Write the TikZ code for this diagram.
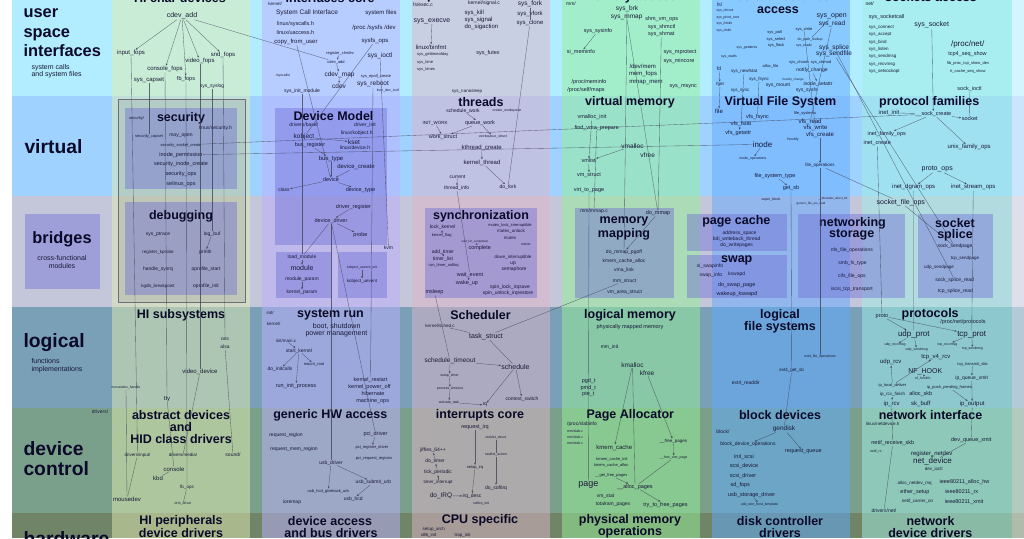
\documentclass[tikz,border=0pt]{standalone}
\usepackage{fontspec}
\setmainfont{Liberation Sans}
\usetikzlibrary{arrows.meta}
\definecolor{cUser}{RGB}{178,236,255}
\definecolor{cVirt}{RGB}{160,210,255}
\definecolor{cBrid}{RGB}{196,198,218}
\definecolor{cLogi}{RGB}{122,160,184}
\definecolor{cDevc}{RGB}{122,160,140}
\definecolor{cHard}{RGB}{112,132,104}
\definecolor{oHI}{RGB}{224,236,176}
\definecolor{oSys}{RGB}{190,176,255}
\definecolor{oProc}{RGB}{222,180,200}
\definecolor{oMem}{RGB}{150,240,150}
\definecolor{oStor}{RGB}{96,170,255}
\definecolor{oNet}{RGB}{160,240,228}
\definecolor{boxc}{RGB}{112,112,214}
\definecolor{headc}{RGB}{10,10,40}
\definecolor{labc}{RGB}{25,25,55}
\definecolor{linec}{RGB}{60,60,80}
\definecolor{framec}{RGB}{110,110,120}
\tikzset{
  every node/.style={inner sep=0.3pt, outer sep=0.2pt, text=labc},
  L/.style={font=\fontsize{#1}{#1}\selectfont},
  B/.style={font=\fontsize{12.5}{13}\selectfont\bfseries, text=headc},
  BIG/.style={font=\fontsize{19.3}{20}\selectfont\bfseries, text=headc, anchor=base west},
  MID/.style={font=\fontsize{16.4}{18}\selectfont\bfseries, text=headc, anchor=base west},
  ln/.style={draw=linec, line width=0.35pt, draw opacity=0.75},
  ar/.style={ln, -{Stealth[length=2.4pt,width=1.9pt]}},
  pbox/.style={fill=boxc, fill opacity=0.45},
  colov/.style={fill opacity=0.5},
}
\begin{document}
\begin{tikzpicture}[x=1pt,y=-1pt]
\useasboundingbox (0,0) rectangle (1024,538);
\clip (0,0) rectangle (1024,538);
\fill[white] (0,0) rectangle (1024,538);
% ---------- rows
\fill[cUser] (12,0) rectangle (1024,96);
\fill[cVirt] (12,96) rectangle (1024,196);
\fill[cBrid] (12,196) rectangle (1024,307);
\fill[cLogi] (12,307) rectangle (1024,408);
\fill[cDevc] (12,408) rectangle (1024,513);
\fill[cHard] (12,513) rectangle (1024,538);
% ---------- columns
\fill[oHI, colov] (112,0) rectangle (250,538);
\fill[oSys, colov] (262,0) rectangle (400,538);
\fill[oProc, colov] (412,0) rectangle (550,538);
\fill[oMem, colov] (562,0) rectangle (700,538);
\fill[oStor, colov] (712,0) rectangle (850,538);
\fill[oNet, colov] (862,0) rectangle (1012,538);
\fill[white, fill opacity=0.45] (1012,0) rectangle (1024,538);
% ---------- frames and boxes
\filldraw[fill=gray, fill opacity=0.2, draw=framec, line width=0.5pt] (118,99) rectangle (245,302);
\fill[pbox] (25,214) rectangle (100,289);
\fill[pbox] (125,108) rectangle (237,189);
\fill[pbox] (125,202) rectangle (237,295);
\fill[pbox] (275,108) rectangle (387,245);
\fill[pbox] (276,252) rectangle (331,298);
\fill[pbox] (338,252) rectangle (387,298);
\fill[pbox] (425,208) rectangle (537,298);
\fill[pbox] (575,208) rectangle (674,298);
\fill[pbox] (687,214) rectangle (787,251);
\fill[pbox] (687,255) rectangle (787,298);
\fill[pbox] (798,214) rectangle (905,298);
\fill[pbox] (918,214) rectangle (993,298);
% ---------- left labels
\node[MID] (lUser) at (23,17) {user};
\node[MID] (lSpace) at (23,37) {space};
\node[MID] (lIntf) at (23,56) {interfaces};
\node[L=7, anchor=base west] (lSc1) at (31,69) {system calls};
\node[L=7, anchor=base west] (lSc2) at (31,76.5) {and system files};
\node[BIG] (lVirt) at (24,153) {virtual};
\node[MID, anchor=base] (lBrid) at (62,243) {bridges};
\node[L=7, anchor=base] (lBr1) at (62,260) {cross-functional};
\node[L=7, anchor=base] (lBr2) at (62,268) {modules};
\node[BIG] (lLogi) at (23,347) {logical};
\node[L=7, anchor=base west] (lLo1) at (31,363) {functions};
\node[L=7, anchor=base west] (lLo2) at (31,371) {implementations};
\node[BIG] (lDev1) at (23,455) {device};
\node[BIG] (lDev2) at (23,475) {control};
\node[BIG] (lHw) at (23,545) {hardware};
% ---------- column titles (cut at top)
\node[B, anchor=base] (tHI) at (180,2.5) {HI char devices};
\node[B, anchor=base] (tSys) at (330,2) {interfaces core};
\node[B, anchor=base] (tProc) at (458,-1) {processes};
\node[B, anchor=base] (tMem) at (630,0) {memory access};
\node[B, anchor=base] (tSt1) at (778,0.5) {files \& directories};
\node[B, anchor=base] (tSt2) at (778,13.5) {access};
\node[B, anchor=base] (tNet) at (931,1.5) {sockets access};
% ---------- HI column
\node[L=7] (hiCdev) at (182,16) {cdev\_add};
\node[L=6] (hiInput) at (131,53) {input\_fops};
\node[L=6] (hiSnd) at (223,55) {snd\_fops};
\node[L=6] (hiVideo) at (200,61) {video\_fops};
\node[L=6] (hiConsole) at (165,69) {console\_fops};
\node[L=5.5] (hiFb) at (186,79) {fb\_fops};
\node[L=6] (hiCapset) at (149,80) {sys\_capset};
\node[L=5] (hiSyslog) at (212,86) {sys\_syslog};
\node[B] (hiSecT) at (181,118) {security};
\node[L=4] (hiSecDir) at (136.5,118) {security/};
\node[L=5] (hiSecH) at (215.5,128) {linux/security.h};
\node[L=4] (hiSecCap) at (149,136) {security\_capset};
\node[L=5] (hiMayOpen) at (181,136) {may\_open};
\node[L=4] (hiSecSock) at (181,145) {security\_socket\_create};
\node[L=5.5] (hiInodePerm) at (181,155) {inode\_permission};
\node[L=5.5] (hiSecInode) at (181,164) {security\_inode\_create};
\node[L=5.5] (hiSecOps) at (181,174) {security\_ops};
\node[L=5.5] (hiSelinux) at (181,184) {selinux\_ops};
\node[B] (hiDbgT) at (181,216) {debugging};
\node[L=5] (hiPtrace) at (158,234) {sys\_ptrace};
\node[L=5] (hiLogbuf) at (212,234) {log\_buf};
\node[L=4.5] (hiKprobe) at (158,252) {register\_kprobe};
\node[L=5] (hiPrintk) at (205.5,252) {printk};
\node[L=5] (hiSysrq) at (158,269) {handle\_sysrq};
\node[L=5] (hiOpStart) at (206,269) {oprofile\_start};
\node[L=4.5] (hiKgdb) at (158,286) {kgdb\_breakpoint};
\node[L=5] (hiOpInit) at (206,286) {oprofile\_init};
\node[B] (hiSubT) at (181,315) {HI subsystems};
\node[L=5] (hiOss) at (225,339) {oss};
\node[L=5] (hiAlsa) at (225,347) {alsa};
\node[L=6] (hiVideoDev) at (200,372) {video\_device};
\node[L=3.5] (hiMdHandle) at (126,388) {mousedev\_handle};
\node[L=6] (hiTty) at (167,399) {tty};
\node[L=5] (hiDrivers) at (100,412) {drivers/};
\node[B] (hiAbs1) at (181,415) {abstract devices};
\node[B] (hiAbs2) at (181,427) {and};
\node[B] (hiAbs3) at (181,439) {HID class drivers};
\node[L=4.5] (hiDrvIn) at (137.5,455) {drivers/input/};
\node[L=4.5] (hiDrvMed) at (183,455) {drivers/media/};
\node[L=5] (hiSound) at (233,455) {sound/};
\node[L=6] (hiConsoleD) at (174,469) {console};
\node[L=6] (hiKbd) at (158,478) {kbd};
\node[L=4.5] (hiFbops) at (187,487) {fb\_ops};
\node[L=6] (hiMousedev) at (127,499) {mousedev};
\node[L=3.5] (hiDrm) at (183,504) {drm\_driver};
\node[B] (hiPer1) at (181,521) {HI peripherals};
\node[B] (hiPer2) at (181,533) {device drivers};
% ---------- System column
\node[L=4.5] (sysKernel) at (275,4) {kernel/};
\node[L=6.5] (sysSCI) at (307,13) {System Call Interface};
\node[L=6] (sysFiles) at (381,13) {system files};
\node[L=5.5] (sysSyscallsH) at (295.5,24) {linux/syscalls.h};
\node[L=5.5] (sysUaccess) at (295.5,33) {linux/uaccess.h};
\node[L=6] (sysCopy) at (296,42) {copy\_from\_user};
\node[L=6] (sysProc) at (374,28) {/proc /sysfs /dev};
\node[L=6] (sysSysfsOps) at (375,41) {sysfs\_ops};
\node[L=4] (sysRegChr) at (340,53) {register\_chrdev};
\node[L=4] (sysCdevAdd) at (336,62) {cdev\_add};
\node[L=6.5] (sysCdevMap) at (339.5,75) {cdev\_map};
\node[L=6.5] (sysCdev) at (339,86) {cdev};
\node[L=6.5] (sysIoctl) at (380,56) {sys\_ioctl};
\node[L=4] (sysEpoll) at (376,76) {sys\_epoll\_create};
\node[L=6.5] (sysReboot) at (373,84) {sys\_reboot};
\node[L=3.5] (sysSyscalls) at (283,76) {/syscalls/};
\node[L=5] (sysInitMod) at (302,91) {sys\_init\_module};
\node[L=3.5] (sysKvmIoctl) at (388,91) {kvm\_dev\_ioctl};
\node[B] (sysDmT) at (333.5,116) {Device Model};
\node[L=5] (sysDrvBase) at (303.7,125) {drivers/base/};
\node[L=5] (sysDrvInit) at (365,125) {driver\_init};
\node[L=6.5] (sysKobject) at (304,137) {kobject};
\node[L=5] (sysKobjH) at (356.7,133) {linux/kobject.h};
\node[L=6.5] (sysKset) at (354,142) {kset};
\node[L=5.5] (sysBusReg) at (310,145) {bus\_register};
\node[L=5] (sysDevH) at (355,148) {linux/device.h};
\node[L=6] (sysBusType) at (331,159) {bus\_type};
\node[L=6] (sysDevCreate) at (356,167) {device\_create};
\node[L=5.5] (sysDevice) at (331,180) {device};
\node[L=5] (sysClass) at (284,190) {class};
\node[L=5.5] (sysDevType) at (360.5,190) {device\_type};
\node[L=5.5] (sysDrvReg) at (353.5,206.7) {driver\_register};
\node[L=5.5] (sysDevDrv) at (331,220.7) {device\_driver};
\node[L=5.5] (sysProbe) at (360.5,235) {probe};
\node[L=5] (sysKvm) at (388.5,248) {kvm};
\node[L=5] (sysLoadMod) at (302,257) {load\_module};
\node[L=7] (sysModule) at (302,267.7) {module};
\node[L=5] (sysModParam) at (302,279) {module\_param};
\node[L=5] (sysKParam) at (302,292.3) {kernel\_param};
\node[L=3.5] (sysKuInit) at (362,267.7) {kobject\_uevent\_init};
\node[L=4.5] (sysKu) at (362,281) {kobject\_uevent};
\node[L=4.5] (sysInit) at (270,313) {init/};
\node[L=4.5] (sysKernel2) at (273.5,324) {kernel/};
\node[B] (sysRunT) at (330.5,315) {system run};
\node[L=7] (sysBoot) at (336.7,326) {boot, shutdown};
\node[L=7] (sysPower) at (336.5,333.5) {power management};
\node[L=4.5] (sysMainC) at (286,340.7) {init/main.c};
\node[L=5] (sysStartK) at (299,350.7) {start\_kernel};
\node[L=5] (sysInitcalls) at (280,369.3) {do\_initcalls};
\node[L=4] (sysMountRoot) at (314,364.3) {mount\_root};
\node[L=5.5] (sysRunInit) at (296,386) {run\_init\_process};
\node[L=5.5] (sysKRestart) at (370.5,380) {kernel\_restart};
\node[L=5.5] (sysKPower) at (369.5,387.3) {kernel\_power\_off};
\node[L=5.5] (sysHibernate) at (373,394) {hibernate};
\node[L=5.5] (sysMachOps) at (372.7,401) {machine\_ops};
\node[B] (sysHwT) at (330.3,415) {generic HW access};
\node[L=5] (sysReqReg) at (286,435) {request\_region};
\node[L=5.5] (sysPciDrv) at (375.5,434) {pci\_driver};
\node[L=5] (sysReqMem) at (294,449) {request\_mem\_region};
\node[L=4] (sysPciReg) at (372,447.3) {pci\_register\_driver};
\node[L=4] (sysPciReq) at (374,458.3) {pci\_request\_regions};
\node[L=5] (sysUsbDrv) at (331,462.7) {usb\_driver};
\node[L=5] (sysUsbSubmit) at (373.3,482.3) {usb\_submit\_urb};
\node[L=4] (sysUsbGive) at (328.3,491) {usb\_hcd\_giveback\_urb};
\node[L=5] (sysIoremap) at (292,501.7) {ioremap};
\node[L=5] (sysUsbHcd) at (353.3,499) {usb\_hcd};
\node[B] (sysDa1) at (330,520.7) {device access};
\node[B] (sysDa2) at (331,532.7) {and bus drivers};
% ---------- Processing column
\node[L=5] (prExecC) at (423,5) {fs/exec.c};
\node[L=5] (prSignalC) at (484,3.5) {kernel/signal.c};
\node[L=6, anchor=west] (prKill) at (464,13) {sys\_kill};
\node[L=6, anchor=west] (prSignal) at (464,19.5) {sys\_signal};
\node[L=6, anchor=west] (prSigact) at (464,27) {do\_sigaction};
\node[L=7] (prExecve) at (432,21) {sys\_execve};
\node[L=6.5] (prFork) at (530,4) {sys\_fork};
\node[L=6] (prVfork) at (530,14) {sys\_vfork};
\node[L=6] (prClone) at (530,23) {sys\_clone};
\node[L=6] (prBinfmt) at (431,47) {linux/binfmt};
\node[L=4, anchor=west] (prGtod) at (416.7,54) {sys\_gettimeofday};
\node[L=4, anchor=west] (prTime) at (416.7,62) {sys\_time};
\node[L=4, anchor=west] (prTimes) at (416.7,69) {sys\_times};
\node[L=5.5] (prFutex) at (488,53) {sys\_futex};
\node[L=4.5] (prNanosleep) at (467,91) {sys\_nanosleep};
\node[B] (prThreadsT) at (481,102) {threads};
\node[L=5] (prSchedWork) at (463,110.7) {schedule\_work};
\node[L=3.5] (prCreateWq) at (507,110.7) {create\_workqueue};
\node[L=4.5] (prInitWork) at (435,123) {INIT\_WORK};
\node[L=5.5] (prQueueWork) at (480,123) {queue\_work};
\node[L=5.5] (prWorkStruct) at (443,137) {work\_struct};
\node[L=3.5] (prWqStruct) at (493,136.7) {workqueue\_struct};
\node[L=6] (prKthread) at (481.7,148) {kthread\_create};
\node[L=6] (prKernThread) at (482,162.7) {kernel\_thread};
\node[L=5] (prCurrent) at (457.5,176.7) {current};
\node[L=5] (prThreadInfo) at (456.7,188.3) {thread\_info};
\node[L=5] (prDoFork) at (508,187) {do\_fork};
\node[B] (prSyncT) at (481,216.7) {synchronization};
\node[L=5] (prLockKernel) at (442.5,227.3) {lock\_kernel};
\node[L=4] (prKernelFlag) at (441.7,235.7) {kernel\_flag};
\node[L=3] (prWaitCompl) at (475,241.7) {wait\_for\_completion};
\node[L=5.5] (prComplete) at (479.7,248.3) {complete};
\node[L=4] (prMutexLock) at (510,225.7) {mutex\_lock\_interruptible};
\node[L=4.5] (prMutexUnlock) at (511,231) {mutex\_unlock};
\node[L=4.5] (prMutex) at (510,237.7) {mutex};
\node[L=3.5] (prOwner) at (526,244.3) {owner};
\node[L=5] (prAddTimer) at (443,252.3) {add\_timer};
\node[L=5] (prTimerList) at (443,259) {timer\_list};
\node[L=4] (prRunTimer) at (443.7,265.5) {run\_timer\_softirq};
\node[L=4.5] (prDownInt) at (513,257.3) {down\_interruptible};
\node[L=5] (prUp) at (513,264) {up};
\node[L=5] (prSema) at (514,269.7) {semaphore};
\node[L=5.5] (prWaitEvent) at (470,275) {wait\_event};
\node[L=5.5] (prWakeUp) at (467,283.3) {wake\_up};
\node[L=5] (prSpinLock) at (510,287.3) {spin\_lock\_irqsave};
\node[L=5] (prSpinUnlock) at (508,293.3) {spin\_unlock\_irqrestore};
\node[L=5.5] (prMsleep) at (434.5,292.3) {msleep};
\node[B] (prSchedT) at (480.5,315) {Scheduler};
\node[L=4.5] (prKSched) at (440,325.7) {kernel/sched.c};
\node[L=7] (prTask) at (486,336.3) {task\_struct};
\node[L=6.5] (prSchedTimeout) at (450,361) {schedule\_timeout};
\node[L=7] (prSchedule) at (515.5,366.7) {schedule};
\node[L=3.5] (prSetupTimer) at (449.5,375.7) {setup\_timer};
\node[L=3.5] (prProcTimeout) at (450,389) {process\_timeout};
\node[L=3.5] (prActTask) at (449,402.3) {activate\_task};
\node[L=5] (prRq) at (485,405) {rq};
\node[L=5] (prCtxSwitch) at (522,399) {context\_switch};
\node[B] (prIntT) at (480,415) {interrupts core};
\node[L=5.5] (prReqIrq) at (475,426.7) {request\_irq};
\node[L=3.5] (prTaskletS) at (496,437.7) {tasklet\_struct};
\node[L=5] (prJiffies) at (433,450) {jiffies\_64++};
\node[L=3.5] (prTaskletA) at (496,455) {tasklet\_action};
\node[L=5] (prDoTimer) at (435,461) {do\_timer};
\node[L=4] (prSetupIrq) at (475,467.3) {setup\_irq};
\node[L=5] (prTickPer) at (438,472.3) {tick\_periodic};
\node[L=4.5] (prTimerInt) at (438,482.7) {timer\_interrupt};
\node[L=5] (prDoSoftirq) at (496,487.7) {do\_softirq};
\node[L=6.5] (prDoIRQ) at (441,495.7) {do\_IRQ};
\node[L=5] (prIrqDesc) at (472,496) {irq\_desc};
\node[L=3.5] (prSoftirqInit) at (481,503.3) {softirq\_init};
\node[B] (prCpuT) at (480,520.7) {CPU specific};
\node[L=4.5] (prSetupArch) at (433.7,529) {setup\_arch};
\node[L=4.5] (prX86) at (428.5,535.5) {x86\_init};
\node[L=4.5] (prTrapInit) at (462.5,535.7) {trap\_init};
% ---------- Memory column
\node[L=5] (mmDir) at (571,3.5) {mm/};
\node[L=6.5] (mmBrk) at (627,9) {sys\_brk};
\node[L=6.5] (mmSysMmap) at (626.7,17.7) {sys\_mmap};
\node[L=5.5] (mmShmOps) at (661.7,18.7) {shm\_vm\_ops};
\node[L=5.5] (mmShmctl) at (661.7,26.7) {sys\_shmctl};
\node[L=5.5] (mmShmat) at (661.3,34.3) {sys\_shmat};
\node[L=5.5] (mmSysinfo) at (598,31) {sys\_sysinfo};
\node[L=5.5] (mmSiMeminfo) at (581,52.3) {si\_meminfo};
\node[L=5.5] (mmMprotect) at (680,52.3) {sys\_mprotect};
\node[L=5.5] (mmMincore) at (679,61) {sys\_mincore};
\node[L=6] (mmDevMem) at (642.7,66.3) {/dev/mem};
\node[L=6] (mmMemFops) at (643,74.3) {mem\_fops};
\node[L=6] (mmMmapMem) at (646,82.3) {mmap\_mem};
\node[L=5.5] (mmProcMeminfo) at (589,82) {/proc/meminfo};
\node[L=5.5] (mmProcMaps) at (586,90) {/proc/self/maps};
\node[L=5.5] (mmMsync) at (683.3,87) {sys\_msync};
\node[B] (mmVirtT) at (630,102.7) {virtual memory};
\node[L=5.5] (mmVmallocInit) at (592,117.3) {vmalloc\_init};
\node[L=5.5] (mmFindVma) at (596.7,127.7) {find\_vma\_prepare};
\node[L=6.5] (mmVmalloc) at (632.5,146) {vmalloc};
\node[L=6.5] (mmVfree) at (647.7,154.7) {vfree};
\node[L=5.5] (mmVmlist) at (588.7,161) {vmlist};
\node[L=5.5] (mmVmStruct) at (589,175) {vm\_struct};
\node[L=5.5] (mmVirtToPage) at (589,190) {virt\_to\_page};
\node[L=5] (mmMmapC) at (594,210.8) {mm/mmap.c};
\node[L=5.5] (mmDoMmap) at (658,213.3) {do\_mmap};
\node[B] (mmMapT1) at (624,221) {memory};
\node[B] (mmMapT2) at (624,234) {mapping};
\node[L=5] (mmDoMmapPgoff) at (624,252.3) {do\_mmap\_pgoff};
\node[L=5] (mmKmemAlloc) at (624,261) {kmem\_cache\_alloc};
\node[L=5] (mmVmaLink) at (624,270) {vma\_link};
\node[L=5] (mmMmStruct) at (624.5,281) {mm\_struct};
\node[L=5] (mmVmArea) at (624.7,292.3) {vm\_area\_struct};
\node[B] (mmLogT) at (630,315) {logical memory};
\node[L=5.5] (mmPhysMapped) at (630,326.7) {physically mapped memory};
\node[L=5] (mmInit) at (609.5,346.7) {mm\_init};
\node[L=6.5] (mmKmalloc) at (632.5,365) {kmalloc};
\node[L=6.5] (mmKfree) at (647,373.3) {kfree};
\node[L=5.5] (mmPgd) at (588.7,381) {pgd\_t};
\node[L=5.5] (mmPmd) at (588.3,387.7) {pmd\_t};
\node[L=5.5] (mmPte) at (588.3,394.3) {pte\_t};
\node[B] (mmPaT) at (630.3,415) {Page Allocator};
\node[L=5] (mmSlabinfo) at (582,424) {/proc/slabinfo};
\node[L=3.5] (mmSlab) at (575,431) {mm/slab.c};
\node[L=3.5] (mmSlub) at (575,437) {mm/slub.c};
\node[L=3.5] (mmSlob) at (575,443.3) {mm/slob.c};
\node[L=4.5] (mmFreePages) at (673.3,441) {\_\_free\_pages};
\node[L=6] (mmKmemCache) at (614.3,447.7) {kmem\_cache};
\node[L=3.5] (mmFreeOne) at (673.7,457.7) {\_\_free\_one\_page};
\node[L=4] (mmKmemInit) at (612,459) {kmem\_cache\_init};
\node[L=4] (mmKmemAlloc2) at (611.2,465) {kmem\_cache\_alloc};
\node[L=4] (mmGetFree) at (611.2,475.7) {\_\_get\_free\_pages};
\node[L=9] (mmPage) at (588.3,485) {page};
\node[L=5.5] (mmAllocPages) at (635,486.7) {\_\_alloc\_pages};
\node[L=5] (mmVmStat) at (605.5,496.7) {vm\_stat};
\node[L=5] (mmTotalram) at (613,504) {totalram\_pages};
\node[L=5.5] (mmTryFree) at (665.5,504.7) {try\_to\_free\_pages};
\node[B] (mmPhys1) at (630,520.7) {physical memory};
\node[B] (mmPhys2) at (630,532.7) {operations};
% ---------- Storage column
\node[L=5] (stFs) at (719.7,5) {fs/};
\node[L=3.5, anchor=west] (stChroot) at (716,10.5) {sys\_chroot};
\node[L=3.5, anchor=west] (stPivot) at (716,17.3) {sys\_pivot\_root};
\node[L=3.5, anchor=west] (stFchdir) at (716,24) {sys\_fchdir};
\node[L=3.5, anchor=west] (stChdir) at (716,31) {sys\_chdir};
\node[L=7] (stOpen) at (831.7,16.7) {sys\_open};
\node[L=6.5] (stRead) at (832,24.3) {sys\_read};
\node[L=4] (stWrite) at (804,29) {sys\_write};
\node[L=4] (stPoll) at (774.7,32.3) {sys\_poll};
\node[L=3.5] (stPathLookup) at (810,39.3) {do\_path\_lookup};
\node[L=4] (stSelect) at (776,39) {sys\_select};
\node[L=4] (stFlock) at (776,45.7) {sys\_flock};
\node[L=3.5] (stReadv) at (804,45.7) {sys\_readv};
\node[L=3.5] (stGetdents) at (747,47.7) {sys\_getdents};
\node[L=6.5] (stSplice) at (834,47.7) {sys\_splice};
\node[L=6.5] (stSendfile) at (834,54.3) {sys\_sendfile};
\node[L=3.5] (stStatfs) at (729,56.7) {sys\_statfs};
\node[L=4] (stChown) at (799,62.7) {sys\_chown};
\node[L=4] (stChmod) at (821,62.7) {sys\_chmod};
\node[L=4] (stAllocFile) at (770.5,66) {alloc\_file};
\node[L=5] (stNotify) at (812,70.7) {notify\_change};
\node[L=5] (stFd) at (719,69) {fd};
\node[L=4.5] (stNewfstat) at (744,71.7) {sys\_newfstat};
\node[L=4.5] (stFsync) at (759,79.3) {sys\_fsync};
\node[L=3] (stFsnotify) at (793,80) {fsnotify\_change};
\node[L=5] (stInodeSetattr) at (818,84) {inode\_setattr};
\node[L=4.5] (stFget) at (720,84.3) {fget};
\node[L=5] (stMount) at (778,85.7) {sys\_mount};
\node[L=4.5] (stSync) at (740,91) {sys\_sync};
\node[L=5] (stSysfs) at (806.7,90.7) {sys\_sysfs};
\node[L=6] (stFile) at (719,111) {file};
\node[B] (stVfsT) at (780.5,102.7) {Virtual File System};
\node[L=5.5] (stVfsFsync) at (757.5,116.7) {vfs\_fsync};
\node[L=5.5] (stVfsFstat) at (741,124) {vfs\_fstat};
\node[L=5.5] (stVfsGetattr) at (738.3,132.7) {vfs\_getattr};
\node[L=4] (stFileSystems) at (805,113.3) {file\_systems};
\node[L=6] (stVfsRead) at (810,122) {vfs\_read};
\node[L=6] (stVfsWrite) at (815.5,128.3) {vfs\_write};
\node[L=6] (stVfsCreate) at (820,135) {vfs\_create};
\node[L=8] (stInode) at (762.5,144.3) {inode};
\node[L=3.5] (stFsnotify2) at (793,140) {fsnotify};
\node[L=3.5] (stInodeOps) at (753,158.3) {inode\_operations};
\node[L=4.5] (stFileOps) at (820,165.7) {file\_operations};
\node[L=5.5] (stFsType) at (775,175.7) {file\_system\_type};
\node[L=5.5] (stGetSb) at (791,188.3) {get\_sb};
\node[L=3.5] (stSuperBlock) at (771,199.3) {super\_block};
\node[L=3] (stGenAio) at (811,203.7) {generic\_file\_aio\_read};
\node[L=3] (stBlkDirect) at (833,199) {\_\_blockdev\_direct\_IO};
\node[B] (pcT) at (736.3,221.7) {page cache};
\node[L=5] (pcAddrSpace) at (739.5,233.3) {address\_space};
\node[L=5] (pcBdi) at (736.7,239.3) {bdi\_writeback\_thread};
\node[L=5] (pcWritepages) at (736.7,245.7) {do\_writepages};
\node[B] (swT) at (736.7,260.7) {swap};
\node[L=5] (swSiSwap) at (710,266) {si\_swapinfo};
\node[L=5] (swInfo) at (710.8,275) {swap\_info};
\node[L=5] (swKswapd) at (736.7,274.3) {kswapd};
\node[L=5.5] (swDoSwap) at (736.7,285) {do\_swap\_page};
\node[L=5.5] (swWakeup) at (737,293.7) {wakeup\_kswapd};
\node[B] (nsT1) at (852.5,223.3) {networking};
\node[B] (nsT2) at (851.7,235) {storage};
\node[L=5] (nsNfs) at (851.8,250.3) {nfs\_file\_operations};
\node[L=5] (nsSmb) at (852.5,263.3) {smb\_fs\_type};
\node[L=5] (nsCifs) at (851.8,276.3) {cifs\_file\_ops};
\node[L=5] (nsIscsi) at (851.8,289.3) {iscsi\_tcp\_transport};
\node[B] (ssT1) at (955,223.3) {socket};
\node[B] (ssT2) at (955,235) {splice};
\node[L=5] (ssSendpage) at (955,246.7) {sock\_sendpage};
\node[L=4.5] (ssTcpSendpage) at (965,258.3) {tcp\_sendpage};
\node[L=4.5] (ssUdpSendpage) at (939,267.7) {udp\_sendpage};
\node[L=5] (ssSpliceRead) at (954.7,280) {sock\_splice\_read};
\node[L=5] (ssTcpSplice) at (955.5,291) {tcp\_splice\_read};
\node[B] (lfsT1) at (780,315) {logical};
\node[B] (lfsT2) at (780,327.7) {file systems};
\node[L=3.5] (stExt4FileOps) at (820,357) {ext4\_file\_operations};
\node[L=4.5] (stExt4GetSb) at (791.7,370.7) {ext4\_get\_sb};
\node[L=5] (stExt4Readdir) at (745.8,383.3) {ext4\_readdir};
\node[B] (bdT) at (780,415) {block devices};
\node[L=5] (stBlock) at (723,431.7) {block/};
\node[L=6.5] (stGendisk) at (784,429) {gendisk};
\node[L=5] (stBdo) at (748,444.3) {block\_device\_operations};
\node[L=5.5] (stReqQueue) at (803.3,451.7) {request\_queue};
\node[L=5.5] (stInitScsi) at (744,456.7) {init\_scsi};
\node[L=5.5] (stScsiDev) at (744,466) {scsi\_device};
\node[L=5.5] (stScsiDrv) at (743,475.7) {scsi\_driver};
\node[L=5.5] (stSdFops) at (740.3,485) {sd\_fops};
\node[L=5.5] (stUsbStor) at (751.7,495) {usb\_storage\_driver};
\node[L=3.5] (stUsbTmpl) at (759.5,504.3) {usb\_stor\_host\_template};
\node[B] (dcT1) at (780,520.7) {disk controller};
\node[B] (dcT2) at (780,532.7) {drivers};
% ---------- Network column
\node[L=5] (ntNet) at (869.7,4) {net/};
\node[L=5.5] (ntSocketcall) at (886.7,16.7) {sys\_socketcall};
\node[L=7] (ntSocket) at (931.7,25) {sys\_socket};
\node[L=4.5, anchor=west] (ntConnect) at (868.3,27.3) {sys\_connect};
\node[L=4.5, anchor=west] (ntAccept) at (868.3,34.3) {sys\_accept};
\node[L=4.5, anchor=west] (ntBind) at (868.3,42) {sys\_bind};
\node[L=4.5, anchor=west] (ntListen) at (868.3,49) {sys\_listen};
\node[L=4.5, anchor=west] (ntSendmsg) at (868.3,56.7) {sys\_sendmsg};
\node[L=4.5, anchor=west] (ntRecvmsg) at (868.3,64.3) {sys\_recvmsg};
\node[L=4.5, anchor=west] (ntSetsockopt) at (868.3,71) {sys\_setsockopt};
\node[L=8] (ntProcNet) at (967.7,44.3) {/proc/net/};
\node[L=5.5] (ntTcp4Seq) at (967.5,54) {tcp4\_seq\_show};
\node[L=4] (ntFibSeq) at (968,63.3) {fib\_proc\_tcp\_show\_dev};
\node[L=4] (ntRtCache) at (967.7,71.7) {rt\_cache\_seq\_show};
\node[L=5.5] (ntSockIoctl) at (969.5,89) {sock\_ioctl};
\node[B] (pfT) at (929.2,102.7) {protocol families};
\node[L=6] (pfInetInit) at (889,112.7) {inet\_init};
\node[L=5.5] (pfSockCreate) at (933.3,114) {\_\_sock\_create};
\node[L=5.5] (pfSocket) at (969.7,119) {socket};
\node[L=5.5] (pfInetFam) at (886.7,134) {inet\_family\_ops};
\node[L=5.5] (pfInetCreate) at (877.2,143.3) {inet\_create};
\node[L=6] (pfUnixFam) at (969.2,147.3) {unix\_family\_ops};
\node[L=7] (pfProtoOps) at (937.2,169.3) {proto\_ops};
\node[L=6] (pfDgram) at (913.7,187.3) {inet\_dgram\_ops};
\node[L=6] (pfStream) at (973.3,187.3) {inet\_stream\_ops};
\node[L=7] (pfSockFileOps) at (900.8,202.3) {socket\_file\_ops};
\node[L=5.5] (ptProto) at (882,316) {proto};
\node[B] (ptT) at (930.2,314.3) {protocols};
\node[L=5.5] (ptProcProt) at (963,322.3) {/proc/net/protocols};
\node[L=8] (ptUdpProt) at (913.8,334.3) {udp\_prot};
\node[L=8] (ptTcpProt) at (971.7,334.3) {tcp\_prot};
\node[L=3.5] (ptUdpRecv) at (895,345) {udp\_recvmsg};
\node[L=3.5] (ptUdpSend) at (916.7,349.7) {udp\_sendmsg};
\node[L=3.5] (ptTcpRecv) at (947.5,344.3) {tcp\_recvmsg};
\node[L=3.5] (ptTcpSend) at (972.5,349) {tcp\_sendmsg};
\node[L=6] (ptTcpV4) at (935.8,356.7) {tcp\_v4\_rcv};
\node[L=6] (ptUdpRcv) at (890.8,362.3) {udp\_rcv};
\node[L=4] (ptTcpTx) at (972.5,364) {tcp\_transmit\_skb};
\node[L=7] (ptNfHook) at (925.3,371.7) {NF\_HOOK};
\node[L=3.5] (ptNfHookfn) at (922.8,379) {nf\_hookfn};
\node[L=5] (ptIpQXmit) at (971.7,378.3) {ip\_queue\_xmit};
\node[L=4] (ptIpLocal) at (892.5,385) {ip\_local\_deliver};
\node[L=4] (ptIpPush) at (949.5,387.7) {ip\_push\_pending\_frames};
\node[L=4.5] (ptIpRcvFin) at (892.5,394.3) {ip\_rcv\_finish};
\node[L=5.5] (ptAllocSkb) at (920.8,394.3) {alloc\_skb};
\node[L=6] (ptIpRcv) at (891.7,404) {ip\_rcv};
\node[L=6] (ptSkBuff) at (920.8,404.3) {sk\_buff};
\node[L=6] (ptIpOutput) at (972.2,404.3) {ip\_output};
\node[B] (niT) at (930.5,415) {network interface};
\node[L=4.5] (niNetdevH) at (882.7,424.3) {linux/netdevice.h};
\node[L=5.5] (niNetifRecv) at (892.8,443.3) {netif\_receive\_skb};
\node[L=3.5] (niNetifRx) at (875.8,451.7) {netif\_rx};
\node[L=5.5] (niDevQ) at (971.3,440) {dev\_queue\_xmit};
\node[L=6] (niRegNetdev) at (931.7,454) {register\_netdev};
\node[L=8] (niNetDev) at (932.5,461.7) {net\_device};
\node[L=4.5] (niDevIoctl) at (933.8,469.3) {dev\_ioctl};
\node[L=4.5] (niAllocNetdev) at (914.7,483.3) {alloc\_netdev\_mq};
\node[L=5.5] (niEther) at (915,492.3) {ether\_setup};
\node[L=4.5] (niCarrier) at (917.5,501.7) {netif\_carrier\_on};
\node[L=5.5] (niIeeeAlloc) at (964.5,482.3) {ieee80211\_alloc\_hw};
\node[L=5.5] (niIeeeRx) at (961.7,492.3) {ieee80211\_rx};
\node[L=5.5] (niIeeeXmit) at (964.2,501.7) {ieee80211\_xmit};
\node[L=5] (niDrvNet) at (884,510.7) {drivers/net/};
\node[B] (ndT1) at (930.5,520.7) {network};
\node[B] (ndT2) at (930.3,532.7) {device drivers};
% ---------- connectors: HI
\draw[ar] (hiCdev) -- (hiInput);
\draw[ar] (hiCdev) -- (hiConsole);
\draw[ar] (hiCdev) -- (hiFb);
\draw[ar] (hiCdev) -- (hiVideo);
\draw[ar] (hiCdev) -- (hiSnd);
\draw[ln] (hiCdev) -- (sysCdevAdd);
\draw[ln] (hiCapset) -- (hiSecCap);
\draw[ln] (hiInput) -- (hiDrvIn);
\draw[ln] (hiConsole) -- (hiTty);
\draw[ln] (hiFb) -- (hiFbops);
\draw[ln] (hiVideo) -- (hiVideoDev);
\draw[ln] (hiSyslog) -- (hiLogbuf);
\draw[ln] (hiSnd) -- (hiOss);
\draw[ar] (hiLogbuf) -- (hiPrintk);
\draw[ln] (hiAlsa) -- (hiSound);
\draw[ln] (hiTty) -- (hiConsoleD);
\draw[ln] (hiConsoleD) -- (hiKbd);
\draw[ln] (hiDrvIn) -- (hiMousedev);
\draw[ln] (hiFbops) -- (hiDrm);
\draw[ln] (hiVideoDev) -- (hiDrvMed);
\draw[ln] (hiMdHandle) -- (hiMousedev);
\draw[ln] (hiSecSock) -- (pfSockCreate);
\draw[ln] (hiInodePerm) -- (stInode);
% ---------- connectors: System
\draw[ar] (sysRegChr) -- (sysCdevAdd);
\draw[ar] (sysCdevAdd) -- (sysCdevMap);
\draw[ar] (sysCdevMap) -- (sysCdev);
\draw[ln] (sysCopy) -- (sysDevice);
\draw[ln] (sysReboot) -- (sysKRestart);
\draw[ln] (sysIoctl) -- (sysKvm);
\draw[ln] (sysInitMod) -- (sysLoadMod);
\draw[ln] (sysSysfsOps) -- (sysKobject);
\draw[ar] (sysKobject) -- (sysKset);
\draw[ar] (sysBusReg) -- (sysBusType);
\draw[ar] (sysBusType) -- (sysDevice);
\draw[ar] (sysDevCreate) -- (sysDevice);
\draw[ar] (sysDevice) -- (sysClass);
\draw[ar] (sysDevice) -- (sysDevType);
\draw[ar] (sysDrvReg) -- (sysDevDrv);
\draw[ar] (sysDevDrv) -- (sysProbe);
\draw[ln] (sysDevDrv) -- (sysLoadMod);
\draw[ln] (sysDevDrv) -- (sysUsbDrv);
\draw[ln] (sysDevDrv) -- (sysPciDrv);
\draw[ar] (sysLoadMod) -- (sysModule);
\draw[ar] (sysModParam) -- (sysKParam);
\draw[ar] (sysKuInit) -- (sysKu);
\draw[ar] (sysMainC) -- (sysStartK);
\draw[ar] (sysStartK) -- (sysInitcalls);
\draw[ar] (sysStartK) -- (sysMountRoot);
\draw[ar] (sysStartK) -- (sysRunInit);
\draw[ar] (sysPciDrv) -- (sysPciReg);
\draw[ar] (sysUsbDrv) -- (sysUsbSubmit);
\draw[ar] (sysUsbSubmit) -- (sysUsbHcd);
\draw[ar] (sysUsbDrv) -- (sysUsbGive);
% ---------- connectors: Processing
\draw[ar] (prExecve) -- (prBinfmt);
\draw[ln] (prClone) -- (prDoFork);
\draw[ln] (prFork) -- (prClone);
\draw[ar] (prSchedWork) -- (prQueueWork);
\draw[ar] (prInitWork) -- (prWorkStruct);
\draw[ar] (prQueueWork) -- (prWorkStruct);
\draw[ar] (prQueueWork) -- (prWqStruct);
\draw[ar] (prKthread) -- (prKernThread);
\draw[ar] (prKernThread) -- (prDoFork);
\draw[ar] (prCurrent) -- (prThreadInfo);
\draw[ln] (prThreadInfo) -- (prWaitEvent);
\draw[ar] (prLockKernel) -- (prKernelFlag);
\draw[ar] (prAddTimer) -- (prTimerList);
\draw[ar] (prWaitCompl) -- (prComplete);
\draw[ar] (prWaitEvent) -- (prWakeUp);
\draw[ln] (prMsleep) -- (prSchedTimeout);
\draw[ln] (prKSched) -- (prTask);
\draw[ln] (prTask) -- (prSchedule);
\draw[ar] (prSchedTimeout) -- (prSetupTimer);
\draw[ar] (prSetupTimer) -- (prProcTimeout);
\draw[ar] (prProcTimeout) -- (prActTask);
\draw[ar] (prActTask) -- (prRq);
\draw[ar] (prSchedTimeout) -- (prSchedule);
\draw[ar] (prSchedule) -- (prCtxSwitch);
\draw[ar] (prSchedule) -- (prRq);
\draw[ar] (prDoIRQ) -- (prIrqDesc);
\draw[ar] (prDoTimer) -- (prJiffies);
\draw[ar] (prTickPer) -- (prDoTimer);
\draw[ar] (prTimerInt) -- (prTickPer);
\draw[ar] (prReqIrq) -- (prSetupIrq);
\draw[ar] (prSetupIrq) -- (prIrqDesc);
\draw[ar] (prTaskletA) -- (prDoSoftirq);
\draw[ln] (prTaskletS) -- (prTaskletA);
% ---------- connectors: Memory
\draw[ar] (mmSysinfo) -- (mmSiMeminfo);
\draw[ln] (mmSysMmap) -- (mmDoMmap);
\draw[ln] (mmShmat) -- (mmDoMmap);
\draw[ln] (mmBrk) -- (mmDoMmapPgoff);
\draw[ar] (mmVmalloc) -- (mmVmlist);
\draw[ar] (mmVmallocInit) -- (mmVmlist);
\draw[ar] (mmVmlist) -- (mmVmStruct);
\draw[ln] (mmVirtToPage) -- (mmPage);
\draw[ln] (mmFindVma) -- (mmMmapC);
\draw[ar] (mmDoMmap) -- (mmDoMmapPgoff);
\draw[ln] (mmMmStruct) -- (prTask);
\draw[ar] (mmKmalloc) -- (mmKmemCache);
\draw[ln] (mmKmalloc) -- (mmAllocPages);
\draw[ar] (mmKfree) -- (mmFreePages);
\draw[ar] (mmFreePages) -- (mmFreeOne);
\draw[ln] (mmFreeOne) -- (mmAllocPages);
\draw[ar] (mmGetFree) -- (mmAllocPages);
\draw[ar] (mmAllocPages) -- (mmTryFree);
% ---------- connectors: Storage
\draw[ln] (stRead) -- (stVfsRead);
\draw[ln] (stWrite) -- (stVfsWrite);
\draw[ln] (stOpen) -- (stPathLookup);
\draw[ln] (stSendfile) -- (ssSendpage);
\draw[ln] (stSplice) -- (ssSpliceRead);
\draw[ar] (stFd) -- (stFget);
\draw[ar] (stFget) -- (stFile);
\draw[ln] (stNewfstat) -- (stVfsFstat);
\draw[ar] (stVfsFstat) -- (stVfsGetattr);
\draw[ln] (stFsync) -- (stVfsFsync);
\draw[ar] (stNotify) -- (stInodeSetattr);
\draw[ar] (stInode) -- (stInodeOps);
\draw[ar] (stVfsCreate) -- (stFileOps);
\draw[ar] (stFsType) -- (stGetSb);
\draw[ln] (stGetSb) -- (stExt4GetSb);
\draw[ln] (stFileOps) -- (stExt4FileOps);
\draw[ln] (stFileOps) -- (pfSockFileOps);
\draw[ln] (stExt4GetSb) -- (stGendisk);
\draw[ar] (stGendisk) -- (stReqQueue);
\draw[ar] (stGendisk) -- (stBdo);
\draw[ar] (stUsbStor) -- (stUsbTmpl);
% ---------- connectors: Network
\draw[ar] (ntSocket) -- (pfSockCreate);
\draw[ln] (ntSockIoctl) -- (pfSocket);
\draw[ln] (pfInetInit) -- (pfSockCreate);
\draw[ar] (pfSockCreate) -- (pfSocket);
\draw[ar] (pfSockCreate) -- (pfInetFam);
\draw[ar] (pfSockCreate) -- (pfUnixFam);
\draw[ln] (pfInetCreate) -- (ptProto);
\draw[ar] (pfProtoOps) -- (pfDgram);
\draw[ar] (pfProtoOps) -- (pfStream);
\draw[ln] (pfDgram) -- (ptUdpProt);
\draw[ln] (pfStream) -- (ptTcpProt);
\draw[ln] (pfSockFileOps) -- (ssSendpage);
\draw[ar] (ptProto) -- (ptUdpProt);
\draw[ar] (ptProto) -- (ptTcpProt);
\draw[ar] (ptUdpProt) -- (ptUdpRecv);
\draw[ar] (ptUdpProt) -- (ptUdpSend);
\draw[ar] (ptTcpProt) -- (ptTcpRecv);
\draw[ar] (ptTcpProt) -- (ptTcpSend);
\draw[ar] (ptTcpTx) -- (ptIpQXmit);
\draw[ar] (ptIpQXmit) -- (ptIpOutput);
\draw[ar] (ptIpPush) -- (ptIpOutput);
\draw[ar] (ptNfHook) -- (ptNfHookfn);
\draw[ar] (ptIpRcv) -- (ptIpRcvFin);
\draw[ar] (ptIpLocal) -- (ptUdpRcv);
\draw[ar] (ptIpLocal) -- (ptTcpV4);
\draw[ln] (ptIpOutput) -- (niDevQ);
\draw[ln] (niNetifRecv) -- (ptIpRcv);
\draw[ln] (niDrvNet) -- (niNetifRecv);
\draw[ar] (niRegNetdev) -- (niNetDev);
\draw[ln] (niDevQ) -- (niNetDev);
\end{tikzpicture}
\end{document}
